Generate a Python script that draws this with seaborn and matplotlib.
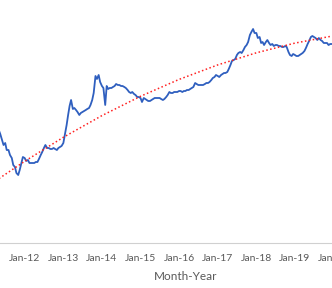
import numpy as np
import pandas as pd
import seaborn as sns
import matplotlib as mpl
import matplotlib.pyplot as plt
import matplotlib.dates as mdates

mpl.use('Agg')

# ---- data (twice a month) ----
start_date = '2011-05-01'
values = [113, 109, 103, 98, 100, 93, 93, 88, 85, 78, 76, 70, 68, 73, 80, 86,
          85, 82, 83, 80, 80, 80, 80, 81, 81, 84, 88, 91, 95, 98, 95, 95,
          94, 94, 95, 94, 93, 95, 96, 97, 100, 108, 118, 128, 137, 143, 134, 135,
          133, 131, 128, 130, 131, 132, 133, 134, 135, 138, 143, 150, 167, 164, 168, 161,
          157, 155, 138, 157, 154, 155, 155, 156, 157, 159, 158, 158, 157, 157, 156, 155,
          153, 151, 150, 151, 149, 148, 146, 146, 145, 141, 145, 144, 143, 142, 142, 143,
          144, 145, 145, 145, 145, 144, 143, 144, 146, 148, 151, 150, 150, 151, 151, 151,
          152, 152, 151, 152, 152, 153, 153, 154, 155, 156, 160, 159, 158, 158, 158, 158,
          159, 160, 160, 161, 163, 165, 166, 168, 167, 166, 168, 169, 170, 170, 171, 174,
          178, 182, 183, 184, 188, 190, 191, 190, 193, 196, 198, 201, 208, 211, 214, 210,
          210, 205, 206, 200, 201, 198, 201, 203, 200, 198, 199, 197, 198, 198, 197, 197,
          196, 196, 197, 196, 191, 188, 187, 189, 188, 187, 187, 188, 189, 190, 192, 195,
          199, 202, 206, 207, 206, 205, 203, 205, 203, 202, 200, 200, 200, 198, 199, 199,
          199, 198]
trend_dates = ['2011-05-01', '2012-01-01', '2013-01-01', '2014-01-01', '2015-01-01',
               '2016-01-01', '2017-01-01', '2018-01-01', '2019-01-01', '2020-01-01']
trend_values = [64.3, 81.7, 105.7, 127.4, 146.7, 163.6, 178.1, 190.2, 199.9, 207.2]

df = pd.DataFrame({'Date': pd.date_range(start_date, periods=len(values), freq='SMS'),
                   'Value': values})
tr = pd.DataFrame({'Date': pd.to_datetime(trend_dates), 'Value': trend_values})

sns.set_style('white')
plt.rcParams['font.family'] = ['Lato', 'DejaVu Sans']

fig = plt.figure(figsize=(3.32, 2.88), dpi=100)
# axes wider than the figure: the chart is a crop of a larger one
ax = fig.add_axes([-10 / 332, 45 / 288, 360 / 332, 243 / 288])

sns.lineplot(data=df, x='Date', y='Value', ax=ax, color='#2f5fbf', linewidth=1.3)
sns.lineplot(data=tr, x='Date', y='Value', ax=ax, color='#ff2020',
             linewidth=1.1, linestyle=(0, (1, 1.6)))

ax.set_xlim(pd.Timestamp('2011-02-07'), pd.Timestamp('2020-06-05'))
ax.set_ylim(0, 243)

ax.xaxis.set_major_locator(mdates.YearLocator())
ax.xaxis.set_major_formatter(mdates.DateFormatter('%b-%y'))
ax.tick_params(axis='x', direction='out', length=4, width=0.8, color='#d0d0d0',
               labelsize=7.5, labelcolor='#595959', pad=4)
ax.set_yticks([])
ax.set_ylabel('')
for s in ['top', 'right', 'left']:
    ax.spines[s].set_visible(False)
ax.spines['bottom'].set_color('#d0d0d0')
ax.spines['bottom'].set_linewidth(0.8)

ax.set_xlabel('Month-Year', fontsize=8.5, color='#595959')
ax.xaxis.set_label_coords(196 / 360, -28 / 243)

fig.savefig('out.png', dpi=100)
